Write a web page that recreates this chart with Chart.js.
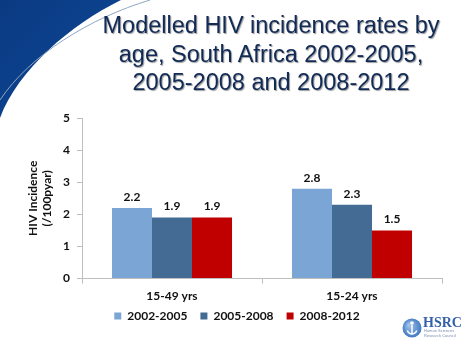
<!DOCTYPE html>
<html>
<head>
<meta charset="utf-8">
<script src="https://cdn.jsdelivr.net/npm/chart.js@4/dist/chart.umd.min.js"></script>
<style>
  html, body { margin: 0; padding: 0; background: #ffffff; overflow: hidden; }
  #wrap { position: relative; width: 474px; height: 355px; }
  #c { position: absolute; left: 0; top: 0; }
  #title {
    position: absolute; left: 0; top: 11px; width: 542px;
    text-align: center; white-space: nowrap;
    font-family: "Liberation Sans", Arial, sans-serif; font-size: 23.5px;
    line-height: 28.5px; color: #112a56;
    text-shadow: 1px 1px 1px rgba(0,0,0,0.4);
  }
</style>
</head>
<body>
<div id="wrap">
  <canvas id="c" width="474" height="355"></canvas>
  <div id="title">Modelled HIV incidence rates by<br>age, South Africa 2002-2005,<br>2005-2008 and 2008-2012</div>
</div>
<script>
const categories = ['15-49 yrs', '15-24 yrs'];
const seriesNames = ['2002-2005', '2005-2008', '2008-2012'];
const values2002_2005 = [2.2, 2.8];
const values2005_2008 = [1.9, 2.3];
const values2008_2012 = [1.9, 1.5];
const yTicks = [0, 1, 2, 3, 4, 5];
const yTitle = ['HIV Incidence', '(/100pyar)'];

const colors = ['#7aa5d5', '#436b93', '#c00000'];
const FONT = 'Lato, "Open Sans", "DejaVu Sans", sans-serif';

const swoosh = {
  id: 'swoosh',
  beforeDraw(chart) {
    const ctx = chart.ctx;
    ctx.save();
    ctx.fillStyle = '#ffffff';
    ctx.fillRect(0, 0, chart.width, chart.height);
    const g = ctx.createLinearGradient(0, 0, 120, 110);
    g.addColorStop(0, '#0a3a82');
    g.addColorStop(1, '#0e4896');
    ctx.fillStyle = g;
    ctx.beginPath();
    ctx.moveTo(0, 0);
    ctx.lineTo(121, 0);
    ctx.bezierCurveTo(70, 25, 18, 70, 0, 118);
    ctx.closePath();
    ctx.fill();
    ctx.strokeStyle = '#8fa6c4';
    ctx.lineWidth = 1;
    ctx.beginPath();
    ctx.moveTo(150, 0);
    ctx.bezierCurveTo(90, 18, 30, 55, 0, 100);
    ctx.stroke();
    ctx.restore();
  }
};

// Pull the legend a little closer to the axis labels, as in the original
const legendShift = {
  id: 'legendShift',
  afterLayout(chart) {
    const lg = chart.legend;
    if (lg) { lg.top -= 11; lg.bottom -= 11; }
  }
};

const barLabels = {
  id: 'barLabels',
  afterDatasetsDraw(chart) {
    const ctx = chart.ctx;
    ctx.save();
    ctx.font = 'bold 12px ' + FONT;
    ctx.fillStyle = '#111111';
    ctx.textAlign = 'center';
    ctx.textBaseline = 'middle';
    chart.data.datasets.forEach((ds, i) => {
      chart.getDatasetMeta(i).data.forEach((bar, j) => {
        ctx.fillText(ds.data[j].toFixed(1), bar.x, bar.y - 11);
      });
    });
    ctx.restore();
  }
};

const logo = {
  id: 'logo',
  afterDraw(chart) {
    const ctx = chart.ctx;
    ctx.save();
    const cx = 412, cy = 328;
    const g = ctx.createRadialGradient(cx - 3, cy - 3, 1, cx, cy, 10);
    g.addColorStop(0, '#9cc0ea');
    g.addColorStop(1, '#3f78c0');
    ctx.fillStyle = g;
    ctx.beginPath(); ctx.arc(cx, cy, 9.5, 0, Math.PI * 2); ctx.fill();
    ctx.strokeStyle = '#ffffff'; ctx.lineWidth = 1.5;
    ctx.beginPath(); ctx.arc(cx, cy + 1, 5, 0.1 * Math.PI, 0.9 * Math.PI); ctx.stroke();
    ctx.beginPath(); ctx.moveTo(cx, cy - 3); ctx.lineTo(cx, cy + 6); ctx.stroke();
    ctx.fillStyle = '#ffffff';
    ctx.beginPath(); ctx.arc(cx, cy - 5, 1.8, 0, Math.PI * 2); ctx.fill();
    ctx.fillStyle = '#3460a8';
    ctx.font = 'bold 14px "Liberation Serif", serif';
    ctx.textBaseline = 'alphabetic';
    ctx.fillText('HSRC', 423, 327);
    ctx.font = '4px "Liberation Sans", sans-serif';
    ctx.fillStyle = '#7a8fb0';
    ctx.fillText('Human Sciences', 424, 332);
    ctx.fillText('Research Council', 424, 337);
    ctx.restore();
  }
};

new Chart(document.getElementById('c'), {
  type: 'bar',
  data: {
    labels: categories,
    datasets: [
      { label: seriesNames[0], data: values2002_2005, backgroundColor: colors[0] },
      { label: seriesNames[1], data: values2005_2008, backgroundColor: colors[1] },
      { label: seriesNames[2], data: values2008_2012, backgroundColor: colors[2] }
    ]
  },
  options: {
    responsive: false,
    animation: false,
    categoryPercentage: 0.667,
    barPercentage: 1.0,
    layout: { padding: { left: 32, right: 32, top: 118, bottom: 12 } },
    plugins: {
      title: { display: false },
      tooltip: { enabled: false },
      legend: {
        position: 'bottom',
        labels: {
          boxWidth: 7, boxHeight: 7, padding: 13,
          color: '#111111',
          font: { family: FONT, size: 12, weight: 'bold' }
        }
      }
    },
    scales: {
      x: {
        grid: { drawOnChartArea: false, tickLength: 5, color: '#bfbfbf', offset: true },
        border: { display: true, color: '#bfbfbf' },
        ticks: { color: '#111111', padding: 5, font: { family: FONT, size: 12, weight: 'bold' } }
      },
      y: {
        min: 0, max: 5,
        afterFit(scale) { scale.width = 50; },
        afterBuildTicks(scale) { scale.ticks = yTicks.map(v => ({ value: v })); },
        grid: { drawOnChartArea: false, tickLength: 5, color: '#bfbfbf' },
        border: { display: true, color: '#bfbfbf' },
        ticks: { color: '#111111', padding: 7, font: { family: FONT, size: 12, weight: 'bold' } },
        title: {
          display: true, text: yTitle, color: '#111111',
          padding: { top: -6, bottom: 0 },
          font: { family: FONT, size: 12, weight: 'bold', lineHeight: 1.2 }
        }
      }
    }
  },
  plugins: [swoosh, legendShift, barLabels, logo]
});
</script>
</body>
</html>
